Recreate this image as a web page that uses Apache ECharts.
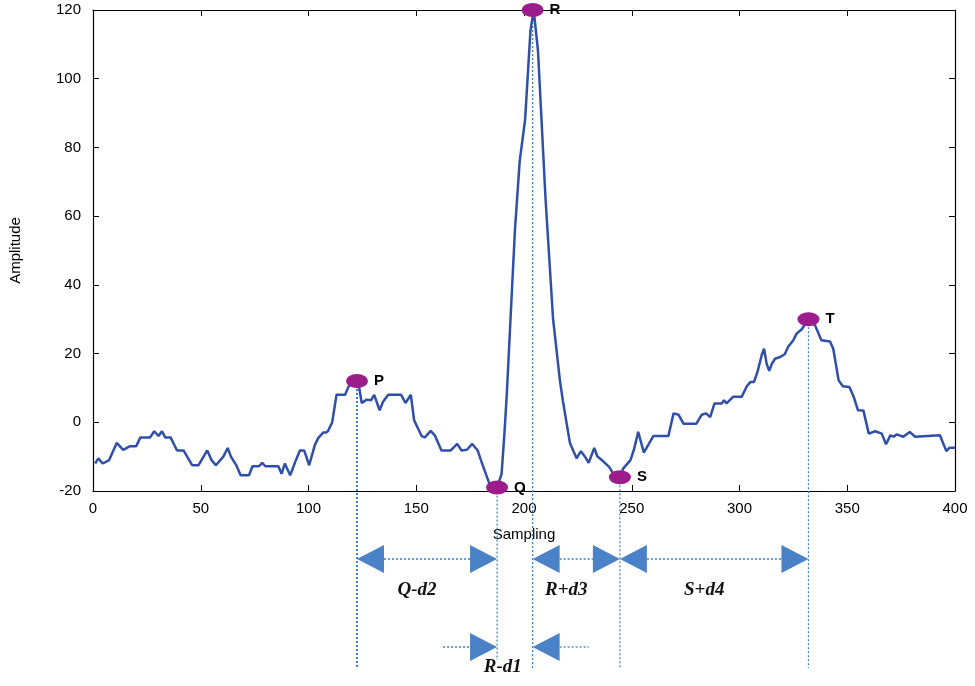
<!DOCTYPE html>
<html><head><meta charset="utf-8">
<script src="https://cdn.jsdelivr.net/npm/echarts@6/dist/echarts.min.js"></script>
<style>html,body{margin:0;padding:0;background:#fff}#c{width:975px;height:686px}</style>
</head><body><div id="c"></div>
<script>
const sampleX = [1,2.5,4.5,7.5,11,14,17,20,22,26.5,28.4,30.4,32,33.5,36,39,42,46,49,53,55,57,60.5,62.5,64,66.5,68.5,72.4,74,77,78.5,80,86,87.5,89,91.5,93.8,96,98,100.3,103,104.5,106.8,108,109,111,113,117,118.5,121.6,123,124.7,127,129,130.5,133,134.6,137,143,145,147.5,149,152.5,154,156.7,158.6,161.7,166,169,171,173.5,176,178.5,180,184,187.5,189.6,191,192,193.5,195.8,198,200.5,203,204.5,206.5,210,213.5,216.7,218,221.3,224.4,226.4,228.3,230,232.6,234,237,239.5,243,244.5,246,249.4,251,253,255.6,260,267,269.4,271.7,274,280,282.5,284.5,286.4,288.4,291.8,292.8,294,297,301,303.4,305,306.7,308.3,310.3,311.4,312.6,313.8,315,316.5,318.8,321,322.6,325,326.5,328.8,332,335,338,342,343.5,346,348,351,353,355,357.5,360,363,366,368,370,371.5,373,376,379,381.5,393,396,397.5,400];
const amplitude = [-12,-10.5,-12,-11,-6,-8,-7,-7,-4.4,-4.4,-2.6,-4,-2.6,-4.4,-4.4,-8.2,-8.2,-12.5,-12.5,-8.2,-11,-12.5,-10,-7.5,-10,-12.5,-15.4,-15.4,-12.8,-12.8,-11.8,-12.8,-12.8,-15,-12,-15.4,-11.6,-8.2,-8.2,-12.5,-6.5,-4.6,-3,-3,-2.6,0,8,8,10.3,12,12,5.6,6.6,6.4,8,3.5,6,8,8,5.6,8,0.6,-4,-4.4,-2.5,-3.8,-8.2,-8.2,-6.3,-8.2,-8,-6.3,-8.2,-11,-18,-19,-15,-2.5,8,27,56,76,88,114,120,108,65,30,12,6.4,-6,-10.5,-8.4,-10,-11.8,-7.5,-9.9,-11.5,-13,-16.5,-16,-13.5,-11,-8,-2.8,-8.8,-4,-4,2.6,2.2,-0.4,-0.4,2.2,2.6,1.5,5.5,5.5,6.4,5.5,7.4,7.4,10.5,11.7,11.7,14.6,19.5,21.4,17,15,17,18.5,19,19.8,22,23.9,25.8,27,30,28.3,23.9,23.5,21.4,12.2,10.5,10.3,7.4,3.5,3.4,-3.3,-2.6,-3.3,-6.4,-3.8,-4.2,-3.5,-4.2,-2.8,-4.2,-3.8,-8.4,-7.4,-7.4];
const waveNames = ['P','Q','R','S','T'];
const waveX = [122.5,187.5,204,244.5,332];
const waveY = [12,-19,120,-16,30];
const intervals = [
  {label:'Q-d2', from:'P', to:'Q', row:0},
  {label:'R+d3', from:'R', to:'S', row:0},
  {label:'S+d4', from:'S', to:'T', row:0},
  {label:'R-d1', from:'Q', to:'R', row:1}
];

const chart = echarts.init(document.getElementById('c'));
const axisCommon = () => ({
  axisLine:{show:true,onZero:false,lineStyle:{color:'#000',width:1.2}},
  axisTick:{show:true,inside:true,length:6,lineStyle:{color:'#000'}},
  splitLine:{show:false}
});
const font = 'Liberation Sans, Arial';
chart.setOption({
  animation:false,
  grid:{left:93,right:20,top:10,bottom:195},
  xAxis:[
    Object.assign(axisCommon(),{type:'value',min:0,max:400,interval:50,position:'bottom',
      axisLabel:{color:'#000',fontSize:15,fontFamily:font,margin:10},
      name:'Sampling',nameLocation:'middle',nameGap:36,
      nameTextStyle:{color:'#000',fontSize:15,fontFamily:font}}),
    Object.assign(axisCommon(),{type:'value',min:0,max:400,interval:50,position:'top',axisLabel:{show:false}})
  ],
  yAxis:[
    Object.assign(axisCommon(),{type:'value',min:-20,max:120,interval:20,position:'left',
      axisLabel:{color:'#000',fontSize:15,fontFamily:font,margin:12},
      name:'Amplitude',nameLocation:'middle',nameGap:70,
      nameTextStyle:{color:'#000',fontSize:15,fontFamily:font}}),
    Object.assign(axisCommon(),{type:'value',min:-20,max:120,interval:20,position:'right',axisLabel:{show:false}})
  ],
  series:[
    {type:'line',data:sampleX.map((x,i)=>[x,amplitude[i]]),showSymbol:false,
     lineStyle:{color:'#2f4fa8',width:2.5},z:2},
    {type:'scatter',data:waveX.map((x,i)=>[x,waveY[i],waveNames[i]]),
     symbol:'circle',symbolSize:[22,14],itemStyle:{color:'#9c1c8c',opacity:1},z:5,
     label:{show:true,position:'right',distance:6,formatter:p=>p.data[2],
       color:'#000',fontWeight:'bold',fontSize:15,fontFamily:font}}
  ]
});

function px(x){return chart.convertToPixel({xAxisIndex:0},x);}
function py(y){return chart.convertToPixel({yAxisIndex:0},y);}
const bottomY = 668;
const rowY = [559, 647];
const labelY = [590, 667];
const g = [];
const lineStyle = {stroke:'#3d7cc9',lineWidth:1.3,lineDash:[2,2]};
waveNames.forEach((n,i)=>{
  g.push({type:'line',shape:{x1:px(waveX[i]),y1:py(waveY[i]),x2:px(waveX[i]),y2:(n==='Q'?660:bottomY)},
    style:Object.assign({},lineStyle,{lineWidth:n==='P'?2:1.2}),z:1});
});
const tw = 27, th = 14;
function tri(tipX, y, dir){
  const bx = tipX - dir*tw;
  return {type:'polygon',shape:{points:[[tipX,y],[bx,y-th],[bx,y+th]]},style:{fill:'#4a82c8'},z:3};
}
const pos = {}; waveNames.forEach((n,i)=>pos[n]=px(waveX[i]));
const lblFont = 'italic bold 19px "Liberation Serif", "DejaVu Serif", serif';
intervals.forEach(iv=>{
  const a = pos[iv.from], b = pos[iv.to], y = rowY[iv.row];
  if(iv.row===0){
    g.push({type:'line',shape:{x1:a+tw,y1:y,x2:b-tw,y2:y},style:lineStyle});
    g.push(tri(a,y,-1)); g.push(tri(b,y,1));
    g.push({type:'text',x:(a+b)/2-10,y:labelY[0],style:{text:iv.label,fill:'#111',
      font:lblFont,align:'center',verticalAlign:'middle'}});
  } else {
    g.push({type:'line',shape:{x1:a-54,y1:y,x2:a-tw,y2:y},style:lineStyle});
    g.push({type:'line',shape:{x1:b+tw,y1:y,x2:b+56,y2:y},style:lineStyle});
    g.push(tri(a,y,1)); g.push(tri(b,y,-1));
    g.push({type:'text',x:(a+b)/2-12,y:labelY[1],style:{text:iv.label,fill:'#111',
      font:lblFont,align:'center',verticalAlign:'middle'}});
  }
});
chart.setOption({graphic:g});
</script></body></html>
